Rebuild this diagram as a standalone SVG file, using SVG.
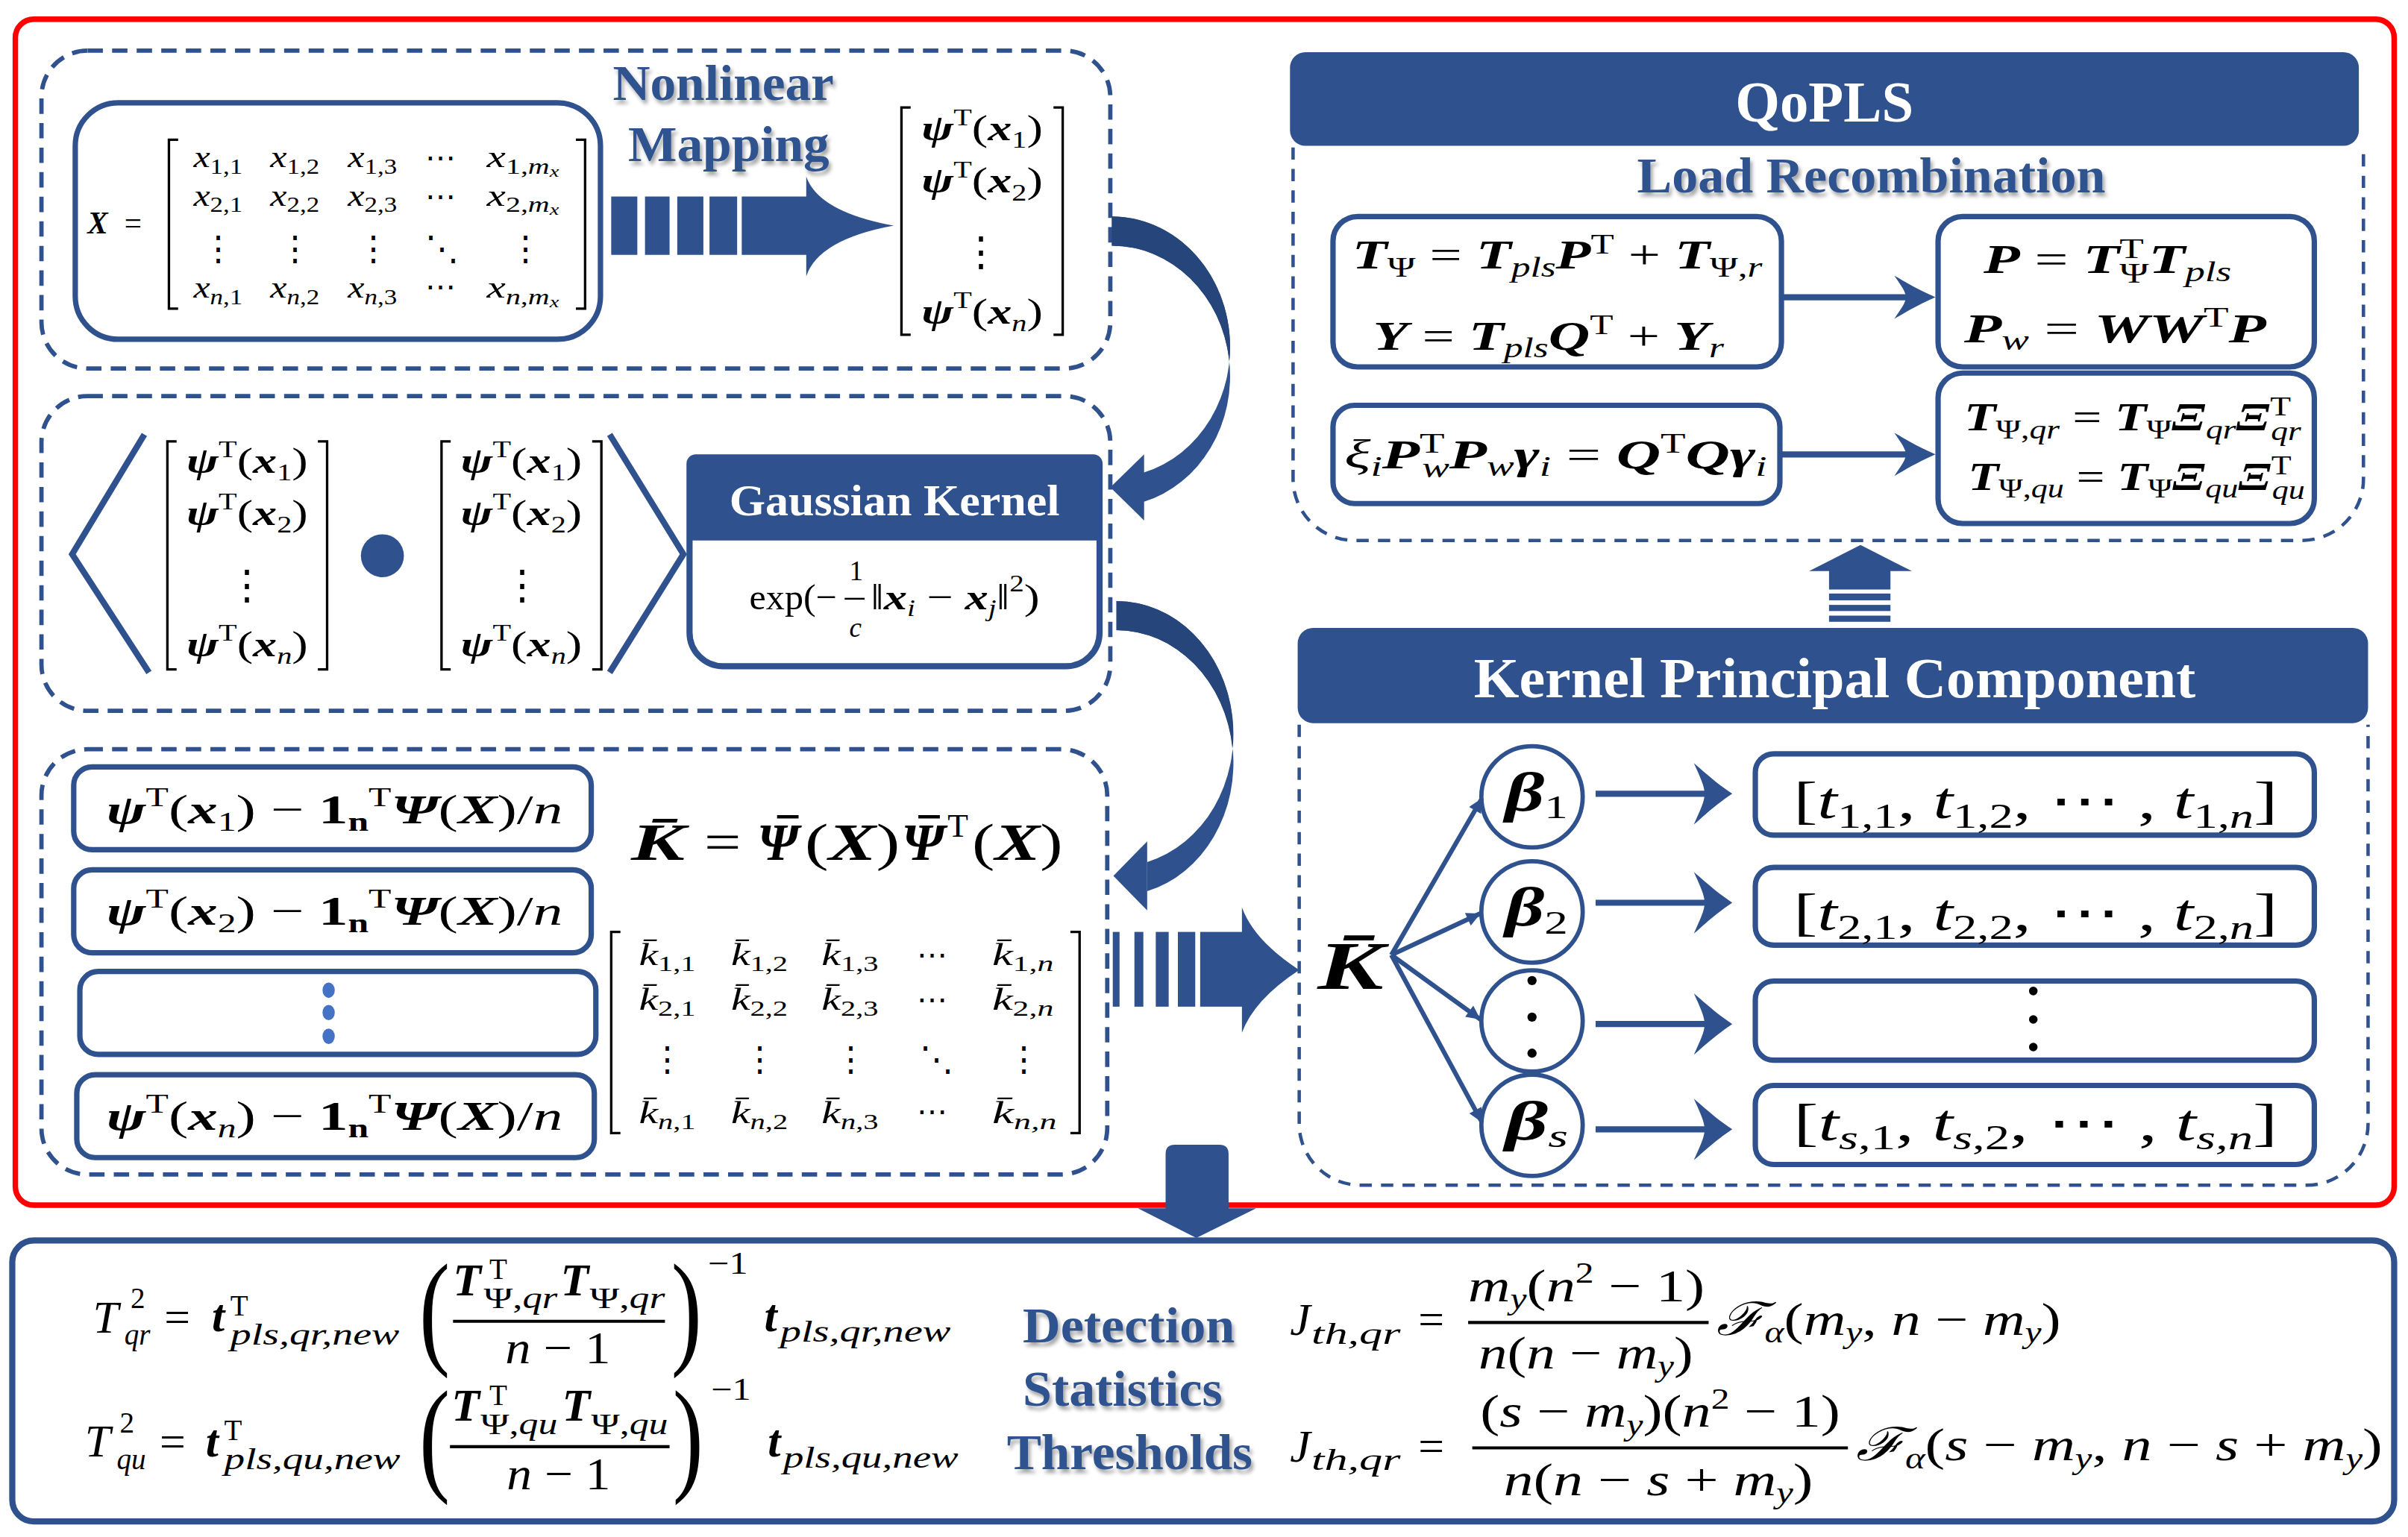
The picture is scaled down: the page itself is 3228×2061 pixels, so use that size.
<svg xmlns="http://www.w3.org/2000/svg" width="3228" height="2061" viewBox="0 0 3228 2061">
<defs>
<style>
.nv{fill:#2F528F}
.dk{fill:#26457A}
.dash{fill:none;stroke:#2F528F;stroke-width:2.8;stroke-dasharray:10 6}
.dash2{fill:none;stroke:#2F528F;stroke-width:2.2;stroke-dasharray:8 6}
.box{fill:#fff;stroke:#2F528F;stroke-width:3.5}
.ln{fill:none;stroke:#2F528F;stroke-width:4}
.fan{fill:none;stroke:#2F528F;stroke-width:3;marker-end:url(#tri)}
.brk{fill:none;stroke:#000;stroke-width:1.6}
.fr{fill:none;stroke:#000;stroke-width:2}
text{font-family:"Liberation Serif","DejaVu Serif",serif;fill:#000}
.m{font-style:italic}
.up{font-style:normal;font-weight:normal}
.ub{font-style:normal;font-weight:bold}
.it{font-style:italic;font-weight:normal}
.bi{font-style:italic;font-weight:bold}
.ti{font-weight:bold;fill:#2F528F;filter:url(#sh)}
.wh{font-weight:bold;fill:#fff}
</style>
<filter id="sh" x="-10%" y="-30%" width="130%" height="170%">
<feDropShadow dx="1.5" dy="2.5" stdDeviation="1.2" flood-color="#000" flood-opacity="0.35"/>
</filter>
<marker id="tri" viewBox="0 0 10 10" refX="10" refY="5" markerWidth="10" markerHeight="9" markerUnits="userSpaceOnUse" orient="auto">
<path d="M0,0 L10,5 L0,10 Z" fill="#2F528F"/>
</marker>
<path id="ah" d="M0,0 C-12,-8 -19,-15 -25,-20 C-21,-11 -18,-5 -18,0 C-18,5 -21,11 -25,20 C-19,15 -12,8 0,0 Z" fill="#2F528F"/>
</defs>
<rect width="3228" height="2061" fill="#fff"/>
<g transform="scale(2.05867)">

<g id="outer-frame">
<rect x="10" y="12.5" width="1549" height="772.5" rx="12" fill="none" stroke="#FF0000" stroke-width="3.6"/>
</g>

<!-- Nonlinear mapping -->
<g id="nonlinear-mapping">
<rect class="dash" x="27" y="33" width="696" height="207" rx="30"/>
<rect class="box" x="49" y="67" width="342" height="154" rx="28" stroke-width="4"/>
<text class="bi" x="57" y="152" font-size="20">X</text>
<text class="up" x="81" y="152" font-size="20">=</text>
<path class="brk" d="M116,91 H110 V201 H116 M375,91 H381 V201 H375"/>
<g font-size="20">
<text class="m" x="126" y="109" textLength="32" lengthAdjust="spacingAndGlyphs">x<tspan class="up" font-size="14" dy="4">1,1</tspan></text>
<text class="m" x="176" y="109" textLength="32" lengthAdjust="spacingAndGlyphs">x<tspan class="up" font-size="14" dy="4">1,2</tspan></text>
<text class="m" x="226.5" y="109" textLength="32" lengthAdjust="spacingAndGlyphs">x<tspan class="up" font-size="14" dy="4">1,3</tspan></text>
<text class="up" x="287" y="110" text-anchor="middle">⋯</text>
<text class="m" x="317" y="109" textLength="47" lengthAdjust="spacingAndGlyphs">x<tspan class="up" font-size="14" dy="4">1,</tspan><tspan font-size="14">m</tspan><tspan font-size="10" dy="2">x</tspan></text>
<text class="m" x="126" y="134" textLength="32" lengthAdjust="spacingAndGlyphs">x<tspan class="up" font-size="14" dy="4">2,1</tspan></text>
<text class="m" x="176" y="134" textLength="32" lengthAdjust="spacingAndGlyphs">x<tspan class="up" font-size="14" dy="4">2,2</tspan></text>
<text class="m" x="226.5" y="134" textLength="32" lengthAdjust="spacingAndGlyphs">x<tspan class="up" font-size="14" dy="4">2,3</tspan></text>
<text class="up" x="287" y="135" text-anchor="middle">⋯</text>
<text class="m" x="317" y="134" textLength="47" lengthAdjust="spacingAndGlyphs">x<tspan class="up" font-size="14" dy="4">2,</tspan><tspan font-size="14">m</tspan><tspan font-size="10" dy="2">x</tspan></text>
<text class="up" x="142" y="169" font-size="22" text-anchor="middle">⋮</text>
<text class="up" x="192" y="169" font-size="22" text-anchor="middle">⋮</text>
<text class="up" x="243" y="169" font-size="22" text-anchor="middle">⋮</text>
<text class="up" x="288" y="169" font-size="22" text-anchor="middle">⋱</text>
<text class="up" x="342" y="169" font-size="22" text-anchor="middle">⋮</text>
<text class="m" x="126" y="194" textLength="32" lengthAdjust="spacingAndGlyphs">x<tspan font-size="14" dy="4">n</tspan><tspan class="up" font-size="14">,1</tspan></text>
<text class="m" x="176" y="194" textLength="32" lengthAdjust="spacingAndGlyphs">x<tspan font-size="14" dy="4">n</tspan><tspan class="up" font-size="14">,2</tspan></text>
<text class="m" x="226.5" y="194" textLength="32" lengthAdjust="spacingAndGlyphs">x<tspan font-size="14" dy="4">n</tspan><tspan class="up" font-size="14">,3</tspan></text>
<text class="up" x="287" y="194" text-anchor="middle">⋯</text>
<text class="m" x="317" y="194" textLength="47" lengthAdjust="spacingAndGlyphs">x<tspan font-size="14" dy="4">n</tspan><tspan class="up" font-size="14">,</tspan><tspan font-size="14">m</tspan><tspan font-size="10" dy="2">x</tspan></text>
</g>
<text class="ti" x="399" y="65" font-size="33" textLength="144" lengthAdjust="spacingAndGlyphs">Nonlinear</text>
<text class="ti" x="409" y="105" font-size="33" textLength="131" lengthAdjust="spacingAndGlyphs">Mapping</text>
<path class="brk" d="M593,70 H587 V218 H593 M686,70 H692 V218 H686"/>
<g font-size="24">
<text x="600" y="91.4" textLength="79" lengthAdjust="spacingAndGlyphs"><tspan class="bi">ψ</tspan><tspan class="up" font-size="15" dy="-10">T</tspan><tspan class="up" dy="10">(</tspan><tspan class="bi">x</tspan><tspan class="up" font-size="15" dy="5">1</tspan><tspan class="up" dy="-5">)</tspan></text>
<text x="600" y="125.5" textLength="79" lengthAdjust="spacingAndGlyphs"><tspan class="bi">ψ</tspan><tspan class="up" font-size="15" dy="-10">T</tspan><tspan class="up" dy="10">(</tspan><tspan class="bi">x</tspan><tspan class="up" font-size="15" dy="5">2</tspan><tspan class="up" dy="-5">)</tspan></text>
<text class="up" x="639" y="173" font-size="26" text-anchor="middle">⋮</text>
<text x="600" y="210.7" textLength="79" lengthAdjust="spacingAndGlyphs"><tspan class="bi">ψ</tspan><tspan class="up" font-size="15" dy="-10">T</tspan><tspan class="up" dy="10">(</tspan><tspan class="bi">x</tspan><tspan class="it" font-size="15" dy="5">n</tspan><tspan class="up" dy="-5">)</tspan></text>
</g>
</g>

<!-- Gaussian kernel inner product -->
<g id="gaussian-kernel">
<rect class="dash" x="27" y="258" width="696" height="205" rx="30"/>
<path d="M94,283 L47,361 L97,438 M397,283 L445,361 L397,438" fill="none" stroke="#2F528F" stroke-width="4"/>
<path class="brk" d="M115,287.5 H109 V436 H115 M207,287.5 H213 V436 H207 M293.5,287.5 H287.5 V436 H293.5 M385.6,287.5 H391.6 V436 H385.6"/>
<g font-size="24">
<text x="121.5" y="308" textLength="79" lengthAdjust="spacingAndGlyphs"><tspan class="bi">ψ</tspan><tspan class="up" font-size="15" dy="-10">T</tspan><tspan class="up" dy="10">(</tspan><tspan class="bi">x</tspan><tspan class="up" font-size="15" dy="5">1</tspan><tspan class="up" dy="-5">)</tspan></text>
<text x="121.5" y="342" textLength="79" lengthAdjust="spacingAndGlyphs"><tspan class="bi">ψ</tspan><tspan class="up" font-size="15" dy="-10">T</tspan><tspan class="up" dy="10">(</tspan><tspan class="bi">x</tspan><tspan class="up" font-size="15" dy="5">2</tspan><tspan class="up" dy="-5">)</tspan></text>
<text class="up" x="161" y="390" font-size="26" text-anchor="middle">⋮</text>
<text x="121.5" y="427.5" textLength="79" lengthAdjust="spacingAndGlyphs"><tspan class="bi">ψ</tspan><tspan class="up" font-size="15" dy="-10">T</tspan><tspan class="up" dy="10">(</tspan><tspan class="bi">x</tspan><tspan class="it" font-size="15" dy="5">n</tspan><tspan class="up" dy="-5">)</tspan></text>
<text x="300" y="308" textLength="79" lengthAdjust="spacingAndGlyphs"><tspan class="bi">ψ</tspan><tspan class="up" font-size="15" dy="-10">T</tspan><tspan class="up" dy="10">(</tspan><tspan class="bi">x</tspan><tspan class="up" font-size="15" dy="5">1</tspan><tspan class="up" dy="-5">)</tspan></text>
<text x="300" y="342" textLength="79" lengthAdjust="spacingAndGlyphs"><tspan class="bi">ψ</tspan><tspan class="up" font-size="15" dy="-10">T</tspan><tspan class="up" dy="10">(</tspan><tspan class="bi">x</tspan><tspan class="up" font-size="15" dy="5">2</tspan><tspan class="up" dy="-5">)</tspan></text>
<text class="up" x="340" y="390" font-size="26" text-anchor="middle">⋮</text>
<text x="300" y="427.5" textLength="79" lengthAdjust="spacingAndGlyphs"><tspan class="bi">ψ</tspan><tspan class="up" font-size="15" dy="-10">T</tspan><tspan class="up" dy="10">(</tspan><tspan class="bi">x</tspan><tspan class="it" font-size="15" dy="5">n</tspan><tspan class="up" dy="-5">)</tspan></text>
</g>
<circle cx="249" cy="362" r="14" class="nv"/>
<path d="M453,298 H712 a4,4 0 0 1 4,4 V412 a22,22 0 0 1 -22,22 H471 a22,22 0 0 1 -22,-22 V302 a4,4 0 0 1 4,-4 Z" fill="#fff" stroke="#2F528F" stroke-width="4"/>
<path d="M453,298 H712 a4,4 0 0 1 4,4 V352 H449 V302 a4,4 0 0 1 4,-4 Z" class="nv"/>
<text class="wh" x="475" y="335.5" font-size="29" textLength="215" lengthAdjust="spacingAndGlyphs">Gaussian Kernel</text>
<text class="up" x="488" y="397" font-size="24" textLength="57" lengthAdjust="spacingAndGlyphs">exp(−</text>
<text class="up" x="553" y="378" font-size="18">1</text>
<path d="M550,390 H563" stroke="#000" stroke-width="1.2"/>
<text class="m" x="553" y="415" font-size="18">c</text>
<text x="567" y="397" font-size="24" textLength="110" lengthAdjust="spacingAndGlyphs"><tspan class="up">‖</tspan><tspan class="bi">x</tspan><tspan class="it" font-size="15" dy="4">i</tspan><tspan class="up" dy="-4"> − </tspan><tspan class="bi">x</tspan><tspan class="it" font-size="15" dy="4">j</tspan><tspan class="up" dy="-4">‖</tspan><tspan class="up" font-size="15" dy="-12">2</tspan><tspan class="up" dy="12">)</tspan></text>
</g>

<!-- Centered kernel -->
<g id="centered-kernel">
<rect class="dash" x="27" y="488" width="694" height="277" rx="30"/>
<rect class="box" x="48" y="499.5" width="337" height="54" rx="12"/>
<rect class="box" x="48" y="566.6" width="337" height="54" rx="12"/>
<rect class="box" x="52" y="632.8" width="336" height="54" rx="12"/>
<rect class="box" x="50" y="700" width="337" height="54" rx="12"/>
<ellipse cx="214" cy="645" rx="4" ry="5" fill="#4472C4"/>
<ellipse cx="214" cy="659.5" rx="4" ry="5" fill="#4472C4"/>
<ellipse cx="214" cy="675" rx="4" ry="5" fill="#4472C4"/>
<g font-size="27">
<text x="69.4" y="536.3" textLength="297" lengthAdjust="spacingAndGlyphs"><tspan class="bi">ψ</tspan><tspan class="up" font-size="17" dy="-11">T</tspan><tspan class="up" dy="11">(</tspan><tspan class="bi">x</tspan><tspan class="up" font-size="17" dy="5">1</tspan><tspan class="up" dy="-5">) − </tspan><tspan class="ub">1</tspan><tspan class="ub" font-size="17" dy="5">n</tspan><tspan class="up" font-size="17" dy="-16">T</tspan><tspan class="bi" dy="11">Ψ</tspan><tspan class="up">(</tspan><tspan class="bi">X</tspan><tspan class="up">)/</tspan><tspan class="it">n</tspan></text>
<text x="69.4" y="602.4" textLength="297" lengthAdjust="spacingAndGlyphs"><tspan class="bi">ψ</tspan><tspan class="up" font-size="17" dy="-11">T</tspan><tspan class="up" dy="11">(</tspan><tspan class="bi">x</tspan><tspan class="up" font-size="17" dy="5">2</tspan><tspan class="up" dy="-5">) − </tspan><tspan class="ub">1</tspan><tspan class="ub" font-size="17" dy="5">n</tspan><tspan class="up" font-size="17" dy="-16">T</tspan><tspan class="bi" dy="11">Ψ</tspan><tspan class="up">(</tspan><tspan class="bi">X</tspan><tspan class="up">)/</tspan><tspan class="it">n</tspan></text>
<text x="69.4" y="735.8" textLength="297" lengthAdjust="spacingAndGlyphs"><tspan class="bi">ψ</tspan><tspan class="up" font-size="17" dy="-11">T</tspan><tspan class="up" dy="11">(</tspan><tspan class="bi">x</tspan><tspan class="it" font-size="17" dy="5">n</tspan><tspan class="up" dy="-5">) − </tspan><tspan class="ub">1</tspan><tspan class="ub" font-size="17" dy="5">n</tspan><tspan class="up" font-size="17" dy="-16">T</tspan><tspan class="bi" dy="11">Ψ</tspan><tspan class="up">(</tspan><tspan class="bi">X</tspan><tspan class="up">)/</tspan><tspan class="it">n</tspan></text>
</g>
<g font-size="34">
<text class="bi" x="411" y="560" textLength="35" lengthAdjust="spacingAndGlyphs">K̄</text>
<text class="up" x="458.5" y="560" textLength="24" lengthAdjust="spacingAndGlyphs">=</text>
<text class="bi" x="493" y="560" textLength="27" lengthAdjust="spacingAndGlyphs">Ψ</text>
<text x="524" y="560" textLength="62" lengthAdjust="spacingAndGlyphs"><tspan class="up">(</tspan><tspan class="bi">X</tspan><tspan class="up">)</tspan></text>
<text class="bi" x="587" y="560" textLength="28" lengthAdjust="spacingAndGlyphs">Ψ</text>
<text class="up" x="617" y="545" font-size="22">T</text>
<text x="633" y="560" textLength="59" lengthAdjust="spacingAndGlyphs"><tspan class="up">(</tspan><tspan class="bi">X</tspan><tspan class="up">)</tspan></text>
</g>
<path d="M506,532 H520 M598,532 H612" stroke="#000" stroke-width="2.2"/>
<path class="brk" d="M404,607 H398 V738 H404 M697,607 H703 V738 H697"/>
<g font-size="20">
<text class="m" x="416" y="628.4" textLength="37" lengthAdjust="spacingAndGlyphs">k̄<tspan class="up" font-size="14" dy="4">1,1</tspan></text>
<text class="m" x="476" y="628.4" textLength="37" lengthAdjust="spacingAndGlyphs">k̄<tspan class="up" font-size="14" dy="4">1,2</tspan></text>
<text class="m" x="535" y="628.4" textLength="37" lengthAdjust="spacingAndGlyphs">k̄<tspan class="up" font-size="14" dy="4">1,3</tspan></text>
<text class="up" x="607" y="629" text-anchor="middle">⋯</text>
<text class="m" x="646" y="628.4" textLength="40" lengthAdjust="spacingAndGlyphs">k̄<tspan class="up" font-size="14" dy="4">1,</tspan><tspan font-size="14">n</tspan></text>
<text class="m" x="416" y="657.7" textLength="37" lengthAdjust="spacingAndGlyphs">k̄<tspan class="up" font-size="14" dy="4">2,1</tspan></text>
<text class="m" x="476" y="657.7" textLength="37" lengthAdjust="spacingAndGlyphs">k̄<tspan class="up" font-size="14" dy="4">2,2</tspan></text>
<text class="m" x="535" y="657.7" textLength="37" lengthAdjust="spacingAndGlyphs">k̄<tspan class="up" font-size="14" dy="4">2,3</tspan></text>
<text class="up" x="607" y="658" text-anchor="middle">⋯</text>
<text class="m" x="646" y="657.7" textLength="40" lengthAdjust="spacingAndGlyphs">k̄<tspan class="up" font-size="14" dy="4">2,</tspan><tspan font-size="14">n</tspan></text>
<text class="up" x="434.7" y="697" font-size="22" text-anchor="middle">⋮</text>
<text class="up" x="494.7" y="697" font-size="22" text-anchor="middle">⋮</text>
<text class="up" x="554" y="697" font-size="22" text-anchor="middle">⋮</text>
<text class="up" x="609.7" y="697" font-size="22" text-anchor="middle">⋱</text>
<text class="up" x="666.7" y="697" font-size="22" text-anchor="middle">⋮</text>
<text class="m" x="416" y="731.4" textLength="37" lengthAdjust="spacingAndGlyphs">k̄<tspan font-size="14" dy="4">n</tspan><tspan class="up" font-size="14">,1</tspan></text>
<text class="m" x="476" y="731.4" textLength="37" lengthAdjust="spacingAndGlyphs">k̄<tspan font-size="14" dy="4">n</tspan><tspan class="up" font-size="14">,2</tspan></text>
<text class="m" x="535" y="731.4" textLength="37" lengthAdjust="spacingAndGlyphs">k̄<tspan font-size="14" dy="4">n</tspan><tspan class="up" font-size="14">,3</tspan></text>
<text class="up" x="607" y="731" text-anchor="middle">⋯</text>
<text class="m" x="646" y="731.4" textLength="42" lengthAdjust="spacingAndGlyphs">k̄<tspan font-size="14" dy="4">n,n</tspan></text>
</g>
</g>

<!-- QoPLS -->
<g id="qopls">
<rect x="840" y="34" width="696" height="61" rx="10" class="nv"/>
<text class="wh" x="1130" y="79" font-size="38" textLength="116" lengthAdjust="spacingAndGlyphs">QoPLS</text>
<path class="dash2" d="M842,96 V312 A40,40 0 0 0 882,352 H1499 A40,40 0 0 0 1539,312 V96"/>
<text class="ti" x="1066" y="125.5" font-size="33" textLength="305" lengthAdjust="spacingAndGlyphs">Load Recombination</text>
<rect class="box" x="868" y="141" width="292" height="98" rx="16"/>
<rect class="box" x="1262" y="141" width="245" height="98" rx="16"/>
<rect class="box" x="868" y="264" width="291" height="64" rx="14"/>
<rect class="box" x="1262" y="243" width="245" height="98" rx="16"/>
<g font-size="27">
<text x="880.6" y="175" textLength="267" lengthAdjust="spacingAndGlyphs"><tspan class="bi">T</tspan><tspan class="up" font-size="18" dy="5">Ψ</tspan><tspan class="up" dy="-5"> = </tspan><tspan class="bi">T</tspan><tspan class="it" font-size="18" dy="5">pls</tspan><tspan class="bi" dy="-5">P</tspan><tspan class="up" font-size="18" dy="-10">T</tspan><tspan class="up" dy="10"> + </tspan><tspan class="bi">T</tspan><tspan class="up" font-size="18" dy="5">Ψ,</tspan><tspan class="it" font-size="18">r</tspan></text>
<text x="894" y="227.7" textLength="228.6" lengthAdjust="spacingAndGlyphs"><tspan class="bi">Y</tspan><tspan class="up"> = </tspan><tspan class="bi">T</tspan><tspan class="it" font-size="18" dy="5">pls</tspan><tspan class="bi" dy="-5">Q</tspan><tspan class="up" font-size="18" dy="-10">T</tspan><tspan class="up" dy="10"> + </tspan><tspan class="bi">Y</tspan><tspan class="it" font-size="18" dy="5">r</tspan></text>
<text x="1291.6" y="178" textLength="161.4" lengthAdjust="spacingAndGlyphs"><tspan class="bi">P</tspan><tspan class="up"> = </tspan><tspan class="bi">T</tspan><tspan class="up" font-size="18" dy="-10">T</tspan><tspan class="up" font-size="18" dx="-11" dy="16">Ψ</tspan><tspan class="bi" dy="-6">T</tspan><tspan class="it" font-size="18" dy="5">pls</tspan></text>
<text x="1279" y="223" textLength="196.6" lengthAdjust="spacingAndGlyphs"><tspan class="bi">P</tspan><tspan class="it" font-size="18" dy="5">w</tspan><tspan class="up" dy="-5"> = </tspan><tspan class="bi">WW</tspan><tspan class="up" font-size="18" dy="-10">T</tspan><tspan class="bi" dy="10">P</tspan></text>
<text x="875.5" y="305" textLength="275" lengthAdjust="spacingAndGlyphs"><tspan class="it">ξ</tspan><tspan class="it" font-size="18" dy="5">i</tspan><tspan class="bi" dy="-5">P</tspan><tspan class="up" font-size="18" dy="-10">T</tspan><tspan class="it" font-size="18" dx="-10" dy="16">w</tspan><tspan class="bi" dy="-6">P</tspan><tspan class="it" font-size="18" dy="5">w</tspan><tspan class="bi" dy="-5">γ</tspan><tspan class="it" font-size="18" dy="5">i</tspan><tspan class="up" dy="-5"> = </tspan><tspan class="bi">Q</tspan><tspan class="up" font-size="18" dy="-10">T</tspan><tspan class="bi" dy="10">Qγ</tspan><tspan class="it" font-size="18" dy="5">i</tspan></text>
</g>
<g font-size="26">
<text x="1279" y="280.4" textLength="219.4" lengthAdjust="spacingAndGlyphs"><tspan class="bi">T</tspan><tspan class="up" font-size="17" dy="5">Ψ,</tspan><tspan class="it" font-size="17">qr</tspan><tspan class="up" dy="-5"> = </tspan><tspan class="bi">T</tspan><tspan class="up" font-size="17" dy="5">Ψ</tspan><tspan class="bi" dy="-5">Ξ</tspan><tspan class="it" font-size="17" dy="5">qr</tspan><tspan class="bi" dy="-5">Ξ</tspan><tspan class="up" font-size="17" dy="-10">T</tspan><tspan class="it" font-size="17" dx="-10" dy="16">qr</tspan></text>
<text x="1281.5" y="319" textLength="219.3" lengthAdjust="spacingAndGlyphs"><tspan class="bi">T</tspan><tspan class="up" font-size="17" dy="5">Ψ,</tspan><tspan class="it" font-size="17">qu</tspan><tspan class="up" dy="-5"> = </tspan><tspan class="bi">T</tspan><tspan class="up" font-size="17" dy="5">Ψ</tspan><tspan class="bi" dy="-5">Ξ</tspan><tspan class="it" font-size="17" dy="5">qu</tspan><tspan class="bi" dy="-5">Ξ</tspan><tspan class="up" font-size="17" dy="-10">T</tspan><tspan class="it" font-size="17" dx="-10" dy="16">qu</tspan></text>
</g>
</g>

<!-- Kernel principal component -->
<g id="kpc">
<rect x="845" y="409" width="697" height="62" rx="10" class="nv"/>
<text class="wh" x="959.7" y="454.4" font-size="37" textLength="470" lengthAdjust="spacingAndGlyphs">Kernel Principal Component</text>
<path class="dash2" d="M846,472 V732 A40,40 0 0 0 886,772 H1502 A40,40 0 0 0 1542,732 V472"/>
<text class="bi" x="858" y="644" font-size="44" textLength="43" lengthAdjust="spacingAndGlyphs">K̄</text>
<circle cx="997.6" cy="519" r="33" fill="#fff" stroke="#2F528F" stroke-width="2.8"/>
<circle cx="997.6" cy="594" r="33" fill="#fff" stroke="#2F528F" stroke-width="2.8"/>
<circle cx="997.6" cy="665" r="33" fill="#fff" stroke="#2F528F" stroke-width="2.8"/>
<circle cx="997.6" cy="733" r="33" fill="#fff" stroke="#2F528F" stroke-width="2.8"/>
<text x="980" y="528" font-size="36" textLength="41" lengthAdjust="spacingAndGlyphs"><tspan class="bi">β</tspan><tspan class="up" font-size="22" dy="5">1</tspan></text>
<text x="980" y="603" font-size="36" textLength="41" lengthAdjust="spacingAndGlyphs"><tspan class="bi">β</tspan><tspan class="up" font-size="22" dy="5">2</tspan></text>
<text x="980" y="742" font-size="36" textLength="41" lengthAdjust="spacingAndGlyphs"><tspan class="bi">β</tspan><tspan class="it" font-size="22" dy="5">s</tspan></text>
<circle cx="997.6" cy="638.7" r="3" fill="#000"/>
<circle cx="997.6" cy="662.5" r="3" fill="#000"/>
<circle cx="997.6" cy="686" r="3" fill="#000"/>
<rect class="box" x="1143" y="491" width="364" height="53" rx="12"/>
<rect class="box" x="1143" y="565" width="364" height="50.6" rx="12"/>
<rect class="box" x="1143" y="639" width="364" height="51.6" rx="12"/>
<rect class="box" x="1143" y="707" width="364" height="51.5" rx="12"/>
<circle cx="1324" cy="645.5" r="2.8" fill="#000"/>
<circle cx="1324" cy="664" r="2.8" fill="#000"/>
<circle cx="1324" cy="682" r="2.8" fill="#000"/>
<g font-size="34">
<text x="1168" y="533" textLength="315" lengthAdjust="spacingAndGlyphs"><tspan class="up">[</tspan><tspan class="it">t</tspan><tspan class="up" font-size="23" dy="6">1,1</tspan><tspan class="up" dy="-6">, </tspan><tspan class="it">t</tspan><tspan class="up" font-size="23" dy="6">1,2</tspan><tspan class="up" dy="-6">, ⋯ , </tspan><tspan class="it">t</tspan><tspan class="up" font-size="23" dy="6">1,</tspan><tspan class="it" font-size="23">n</tspan><tspan class="up" dy="-6">]</tspan></text>
<text x="1168" y="605.8" textLength="315" lengthAdjust="spacingAndGlyphs"><tspan class="up">[</tspan><tspan class="it">t</tspan><tspan class="up" font-size="23" dy="6">2,1</tspan><tspan class="up" dy="-6">, </tspan><tspan class="it">t</tspan><tspan class="up" font-size="23" dy="6">2,2</tspan><tspan class="up" dy="-6">, ⋯ , </tspan><tspan class="it">t</tspan><tspan class="up" font-size="23" dy="6">2,</tspan><tspan class="it" font-size="23">n</tspan><tspan class="up" dy="-6">]</tspan></text>
<text x="1168" y="742.7" textLength="315" lengthAdjust="spacingAndGlyphs"><tspan class="up">[</tspan><tspan class="it">t</tspan><tspan class="it" font-size="23" dy="6">s</tspan><tspan class="up" font-size="23">,1</tspan><tspan class="up" dy="-6">, </tspan><tspan class="it">t</tspan><tspan class="it" font-size="23" dy="6">s</tspan><tspan class="up" font-size="23">,2</tspan><tspan class="up" dy="-6">, ⋯ , </tspan><tspan class="it">t</tspan><tspan class="it" font-size="23" dy="6">s,n</tspan><tspan class="up" dy="-6">]</tspan></text>
</g>
</g>

<!-- Detection statistics and thresholds -->
<g id="detection">
<rect x="8" y="808" width="1551" height="183" rx="14" fill="none" stroke="#2F528F" stroke-width="4"/>
<text class="ti" x="666" y="874.3" font-size="33" textLength="138" lengthAdjust="spacingAndGlyphs">Detection</text>
<text class="ti" x="666" y="915.6" font-size="33" textLength="130" lengthAdjust="spacingAndGlyphs">Statistics</text>
<text class="ti" x="655.6" y="956.9" font-size="33" textLength="160" lengthAdjust="spacingAndGlyphs">Thresholds</text>
<!-- T2 qr -->
<text class="m" x="60.5" y="868" font-size="30">T</text>
<text class="up" x="85" y="852" font-size="19">2</text>
<text class="m" x="81" y="876" font-size="19">qr</text>
<text class="up" x="107" y="868" font-size="30">=</text>
<text class="bi" x="138" y="867" font-size="30">t</text>
<text class="up" x="150" y="857" font-size="19">T</text>
<text class="it" x="150" y="876" font-size="19" textLength="110" lengthAdjust="spacingAndGlyphs">pls,qr,new</text>
<text class="up" transform="translate(273,880) scale(1,1.37)" font-size="60">(</text>
<text class="up" transform="translate(437,880) scale(1,1.37)" font-size="60">)</text>
<text class="bi" x="295" y="843.6" font-size="30">T</text>
<text class="up" x="318.6" y="833" font-size="19">T</text>
<text x="315" y="852" font-size="19" textLength="48" lengthAdjust="spacingAndGlyphs"><tspan class="up">Ψ,</tspan><tspan class="it">qr</tspan></text>
<text class="bi" x="365" y="843.6" font-size="30">T</text>
<text x="384" y="852" font-size="19" textLength="49" lengthAdjust="spacingAndGlyphs"><tspan class="up">Ψ,</tspan><tspan class="it">qr</tspan></text>
<path class="fr" d="M295,860.6 H433"/>
<text x="329" y="888" font-size="30" textLength="68.6" lengthAdjust="spacingAndGlyphs"><tspan class="it">n</tspan><tspan class="up"> − 1</tspan></text>
<text class="up" x="461" y="829.8" font-size="20" textLength="26" lengthAdjust="spacingAndGlyphs">−1</text>
<text class="bi" x="497.6" y="867" font-size="30">t</text>
<text class="it" x="508" y="874" font-size="19" textLength="111" lengthAdjust="spacingAndGlyphs">pls,qr,new</text>
<!-- T2 qu -->
<text class="m" x="55.3" y="948.8" font-size="30">T</text>
<text class="up" x="78" y="933" font-size="19">2</text>
<text class="m" x="76" y="957" font-size="19">qu</text>
<text class="up" x="104" y="949" font-size="30">=</text>
<text class="bi" x="134" y="948.8" font-size="30">t</text>
<text class="up" x="146" y="938" font-size="19">T</text>
<text class="it" x="146" y="957" font-size="19" textLength="114.7" lengthAdjust="spacingAndGlyphs">pls,qu,new</text>
<text class="up" transform="translate(273,962.7) scale(1,1.37)" font-size="60">(</text>
<text class="up" transform="translate(438,962.7) scale(1,1.37)" font-size="60">)</text>
<text class="bi" x="294" y="925.3" font-size="30">T</text>
<text class="up" x="318.6" y="915" font-size="19">T</text>
<text x="313" y="934" font-size="19" textLength="50" lengthAdjust="spacingAndGlyphs"><tspan class="up">Ψ,</tspan><tspan class="it">qu</tspan></text>
<text class="bi" x="366" y="925.3" font-size="30">T</text>
<text x="385" y="934" font-size="19" textLength="50" lengthAdjust="spacingAndGlyphs"><tspan class="up">Ψ,</tspan><tspan class="it">qu</tspan></text>
<path class="fr" d="M293,942.3 H436"/>
<text x="330" y="970" font-size="30" textLength="67.6" lengthAdjust="spacingAndGlyphs"><tspan class="it">n</tspan><tspan class="up"> − 1</tspan></text>
<text class="up" x="463" y="911.6" font-size="20" textLength="26" lengthAdjust="spacingAndGlyphs">−1</text>
<text class="bi" x="500" y="948.8" font-size="30">t</text>
<text class="it" x="510" y="956" font-size="19" textLength="114" lengthAdjust="spacingAndGlyphs">pls,qu,new</text>
<!-- J th qr (1) -->
<text class="m" x="840" y="869.5" font-size="30">J</text>
<text class="it" x="854" y="875.1" font-size="19" textLength="58" lengthAdjust="spacingAndGlyphs">th,qr</text>
<text class="up" x="923.5" y="869.5" font-size="30">=</text>
<text x="956" y="847.6" font-size="30" textLength="154" lengthAdjust="spacingAndGlyphs"><tspan class="it">m</tspan><tspan class="it" font-size="19" dy="5">y</tspan><tspan class="up" dy="-5">(</tspan><tspan class="it">n</tspan><tspan class="up" font-size="19" dy="-12">2</tspan><tspan class="up" dy="12"> − 1)</tspan></text>
<path class="fr" d="M956,861.4 H1112.6"/>
<text x="962.8" y="891.3" font-size="30" textLength="139.7" lengthAdjust="spacingAndGlyphs"><tspan class="it">n</tspan><tspan class="up">(</tspan><tspan class="it">n</tspan><tspan class="up"> − </tspan><tspan class="it">m</tspan><tspan class="it" font-size="19" dy="5">y</tspan><tspan class="up" dy="-5">)</tspan></text>
<text x="1117.6" y="869.5" font-size="30" textLength="224.4" lengthAdjust="spacingAndGlyphs"><tspan class="it">ℱ</tspan><tspan class="it" font-size="19" dy="5">α</tspan><tspan class="up" dy="-5">(</tspan><tspan class="it">m</tspan><tspan class="it" font-size="19" dy="5">y</tspan><tspan class="up" dy="-5">, </tspan><tspan class="it">n</tspan><tspan class="up"> − </tspan><tspan class="it">m</tspan><tspan class="it" font-size="19" dy="5">y</tspan><tspan class="up" dy="-5">)</tspan></text>
<!-- J th qr (2) -->
<text class="m" x="840" y="952" font-size="30">J</text>
<text class="it" x="854" y="957.6" font-size="19" textLength="58" lengthAdjust="spacingAndGlyphs">th,qr</text>
<text class="up" x="923.5" y="952" font-size="30">=</text>
<text x="963.8" y="929.4" font-size="30" textLength="234.5" lengthAdjust="spacingAndGlyphs"><tspan class="up">(</tspan><tspan class="it">s</tspan><tspan class="up"> − </tspan><tspan class="it">m</tspan><tspan class="it" font-size="19" dy="5">y</tspan><tspan class="up" dy="-5">)(</tspan><tspan class="it">n</tspan><tspan class="up" font-size="19" dy="-12">2</tspan><tspan class="up" dy="12"> − 1)</tspan></text>
<path class="fr" d="M958.7,943.1 H1203.3"/>
<text x="979" y="973.9" font-size="30" textLength="201.6" lengthAdjust="spacingAndGlyphs"><tspan class="it">n</tspan><tspan class="up">(</tspan><tspan class="it">n</tspan><tspan class="up"> − </tspan><tspan class="it">s</tspan><tspan class="up"> + </tspan><tspan class="it">m</tspan><tspan class="it" font-size="19" dy="5">y</tspan><tspan class="up" dy="-5">)</tspan></text>
<text x="1208.4" y="951.2" font-size="30" textLength="343" lengthAdjust="spacingAndGlyphs"><tspan class="it">ℱ</tspan><tspan class="it" font-size="19" dy="5">α</tspan><tspan class="up" dy="-5">(</tspan><tspan class="it">s</tspan><tspan class="up"> − </tspan><tspan class="it">m</tspan><tspan class="it" font-size="19" dy="5">y</tspan><tspan class="up" dy="-5">, </tspan><tspan class="it">n</tspan><tspan class="up"> − </tspan><tspan class="it">s</tspan><tspan class="up"> + </tspan><tspan class="it">m</tspan><tspan class="it" font-size="19" dy="5">y</tspan><tspan class="up" dy="-5">)</tspan></text>
</g>

<!-- Connectors -->
<g id="connectors">
<g class="nv">
<rect x="398" y="128" width="17" height="38"/>
<rect x="420" y="128" width="16" height="38"/>
<rect x="441" y="128" width="17" height="38"/>
<rect x="462" y="128" width="18" height="38"/>
<rect x="483" y="128" width="43" height="38"/>
<path d="M525,115 Q533,138 582,147 Q533,156 525,180 Z"/>
</g>
<path class="nv" d="M724,141 A77,85 0 0 1 744.6,307.9 L744.6,326.9 A77,85 0 0 0 724,160 Z"/>
<path class="dk" d="M724,141 A77,85 0 0 1 800.5,235.5 A77,85 0 0 0 724,160 Z"/>
<path class="nv" d="M723,317.4 L745,296 L745,339 Z"/>
<path class="nv" d="M727,391.5 A76,86.5 0 0 1 747,561.5 L747,580.5 A76,86.5 0 0 0 727,410.5 Z"/>
<path class="dk" d="M727,391.5 A76,86.5 0 0 1 802.5,487.5 A76,86.5 0 0 0 727,410.5 Z"/>
<path class="nv" d="M725,570.5 L747,548 L747,593 Z"/>
<g class="nv">
<rect x="724.6" y="607" width="4.4" height="48.7"/>
<rect x="738.7" y="607" width="5.8" height="48.7"/>
<rect x="752.6" y="607" width="8.4" height="48.7"/>
<rect x="767" y="607" width="11.3" height="48.7"/>
<rect x="781.5" y="607" width="27.7" height="48.7"/>
<path d="M808.7,591 Q816.6,612.6 846,631.8 Q816.6,651 808.7,672.7 Z"/>
</g>
<g class="nv">
<path d="M1211.5,355 L1245,372 H1231 V384 H1191 V372 H1178 Z"/>
<rect x="1191" y="386.6" width="40" height="4.4"/>
<rect x="1191" y="394" width="40" height="4"/>
<rect x="1191" y="401" width="40" height="4"/>
</g>
<path class="nv" d="M765,745.6 H794 Q800,745.6 800,751.6 V787 H818 L779,806.3 L741,787 H759 V751.6 Q759,745.6 765,745.6 Z"/>
<path class="ln" d="M1160,193.6 H1250"/>
<use href="#ah" transform="translate(1260.3,193.6) scale(1.07,0.7)"/>
<path class="ln" d="M1159,296 H1250"/>
<use href="#ah" transform="translate(1260.3,296) scale(1.07,0.7)"/>
<path class="fan" d="M906,622 L965,520"/>
<path class="fan" d="M906,622 L964,595"/>
<path class="fan" d="M906,622 L964,664"/>
<path class="fan" d="M906,622 L965,731"/>
<path class="ln" d="M1039,517 H1112" stroke-width="4.5"/>
<use href="#ah" transform="translate(1128,517)"/>
<path class="ln" d="M1039,588 H1112" stroke-width="4.5"/>
<use href="#ah" transform="translate(1128,588)"/>
<path class="ln" d="M1039,667 H1112" stroke-width="4.5"/>
<use href="#ah" transform="translate(1128,667)"/>
<path class="ln" d="M1039,735.6 H1112" stroke-width="4.5"/>
<use href="#ah" transform="translate(1128,735.6)"/>
</g>
</g>
</svg>
